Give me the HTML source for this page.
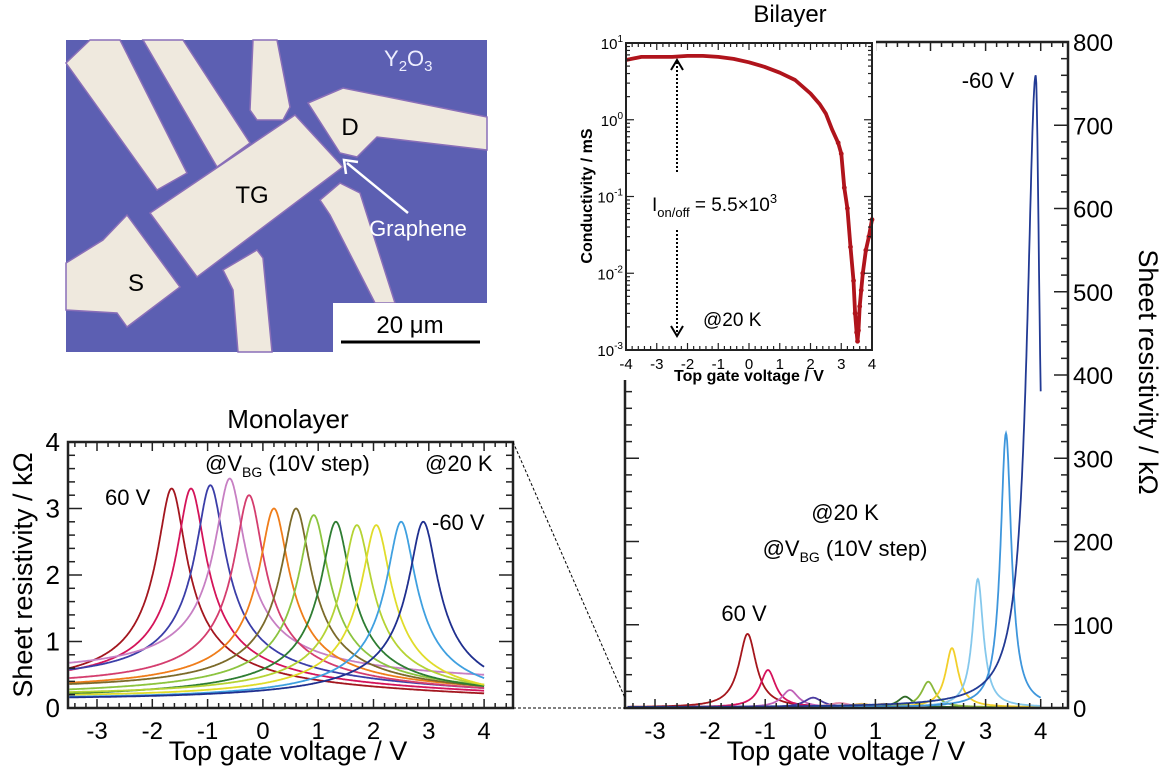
<!DOCTYPE html>
<html><head><meta charset="utf-8"><style>
html,body{margin:0;padding:0;background:#fff;}
svg{display:block;font-family:"Liberation Sans",sans-serif;}
</style></head><body>
<svg id="fig" width="1162" height="771" viewBox="0 0 1162 771" xmlns="http://www.w3.org/2000/svg">
<g id="photo">
  <rect x="66" y="40" width="421" height="312" fill="#5c5fb2"/>
  <g fill="#efe9de" stroke="#8a6fb8" stroke-width="1.5">
    <polygon points="90,40 66,63 157,190 187,173 120,40"/>
    <polygon points="143,40 183,40 250,143 217,167"/>
    <polygon points="150,213 295,115 343,167 197,277"/>
    <polygon points="253,40 277,40 290,107 283,120 257,120 250,110"/>
    <polygon points="308,103 343,88 487,117 487,150 377,137 357,157 340,153"/>
    <polygon points="103,240 127,215 180,287 127,327 117,313 66,310 66,263"/>
    <polygon points="223,270 257,250 263,258 272,352 238,352 233,290"/>
    <polygon points="320,200 340,183 360,193 395,303 375,303 330,215"/>
  </g>
  <rect x="333" y="303" width="154" height="49" fill="#fff"/>
  <line x1="341" y1="342" x2="480" y2="342" stroke="#000" stroke-width="3"/>
  <text x="410" y="333" font-size="24" text-anchor="middle">20 μm</text>
  <text x="384" y="66" font-size="22" fill="#eef">Y<tspan font-size="15" dy="5">2</tspan><tspan dy="-5">O</tspan><tspan font-size="15" dy="5">3</tspan></text>
  <text x="350" y="135" font-size="24" text-anchor="middle">D</text>
  <text x="252" y="203" font-size="24" text-anchor="middle">TG</text>
  <text x="136" y="291" font-size="24" text-anchor="middle">S</text>
  <text x="418" y="236" font-size="22" fill="#fff" text-anchor="middle">Graphene</text>
  <line x1="408" y1="213" x2="347" y2="163" stroke="#fff" stroke-width="2.5"/>
  <polyline points="346,174 344,160 358,162" fill="none" stroke="#fff" stroke-width="2.5"/>
</g>
<g id="mono"></g>
<g id="bi"></g>
<g id="ins"></g>
<line x1="513" y1="442" x2="625" y2="698" stroke="#000" stroke-width="1" stroke-dasharray="3,2"/>
<line x1="513" y1="708" x2="625" y2="708" stroke="#000" stroke-width="1" stroke-dasharray="3,2"/>
</svg>
<script>
// ---- Monolayer data ----
const monoVbg = ["60","50","40","30","20","10","0","-10","-20","-30","-40","-50","-60"];
const monoPeakV = [-1.65,-1.3,-0.95,-0.6,-0.25,0.2,0.6,0.92,1.32,1.7,2.05,2.5,2.9];
const monoPeakR = [3.3,3.3,3.35,3.45,3.2,3.0,3.0,2.9,2.8,2.75,2.75,2.8,2.8];
const monoLeftR = [0.6,0.57,0.58,0.68,0.45,0.38,0.36,0.28,0.22,0.24,0.2,0.17,0.16];
const monoRightR = [0.22,0.26,0.3,0.5,0.3,0.33,0.33,0.35,0.33,0.35,0.35,0.45,0.62];
const monoColors = ["#a3161e","#d4145a","#3b3ea8","#c77fc3","#d43d6e","#ef7d1a","#7b6a2a","#8cc43f","#2e7d32","#b5d334","#e0dc2a","#3fa0e0","#1f2f8f"];
const monoXTicks = [-3,-2,-1,0,1,2,3,4];
const monoYTicks = [0,1,2,3,4];
// ---- Bilayer data ----
const biVbg = ["60","50","40","30","20","10","0","-10","-20","-30","-40","-50","-60"];
const biPeakV = [-1.32,-0.95,-0.55,-0.13,0.35,0.75,1.15,1.54,1.96,2.39,2.86,3.37,3.91];
const biPeakR = [89,45.6,21.6,12.4,6,5,5,13.6,31.6,72,155,330,760];
const biWidthL = [0.19,0.17,0.18,0.2,0.25,0.25,0.25,0.16,0.15,0.14,0.12,0.12,0.19];
const biWidthR = [0.19,0.17,0.18,0.2,0.25,0.25,0.25,0.16,0.15,0.14,0.12,0.12,0.09];
const biColors = ["#a5161c","#d6125c","#c062b8","#4a3aa0","#e38aa8","#d9b060","#c8a070","#2f6a25","#8ab83a","#f2cf2a","#85c8ec","#3e96dc","#223a94"];
const biXTicks = [-3,-2,-1,0,1,2,3,4];
const biYTicks = [0,100,200,300,400,500,600,700,800];
// ---- Inset data ----
const insV = [-4,-3.5,-3,-2.5,-2,-1.5,-1,-0.5,0,0.5,1,1.5,2,2.3,2.5,2.7,2.9,3.0,3.1,3.2,3.3,3.4,3.45,3.5,3.53,3.56,3.6,3.65,3.7,3.8,3.9,4.0];
const insSigma = [6.0,6.6,6.6,6.6,6.8,6.8,6.6,6.2,5.6,4.9,4.1,3.3,2.2,1.6,1.2,0.75,0.5,0.36,0.13,0.07,0.022,0.008,0.003,0.0017,0.0013,0.0018,0.0037,0.006,0.01,0.02,0.03,0.05];
const insXTicks = [-4,-3,-2,-1,0,1,2,3,4];
const insYExp = [1,0,-1,-2,-3];

const NS="http://www.w3.org/2000/svg";
function mk(parent,tag,attrs){const e=document.createElementNS(NS,tag);for(const k in attrs)e.setAttribute(k,attrs[k]);parent.appendChild(e);return e;}

// ===== Monolayer =====
(function(){
const g=document.getElementById('mono');
const L=68,R=513,T=442,B=708;
const xs=v=>97+(v+3)*55.3, ys=v=>B-(v/4)*(B-T);
let t=mk(g,'text',{x:288,y:428,'font-size':26,'text-anchor':'middle'});t.textContent='Monolayer';


const clip=mk(g,'clipPath',{id:'mclip'});mk(clip,'rect',{x:L,y:T,width:R-L,height:B-T});
const cg=mk(g,'g',{'clip-path':'url(#mclip)'});
for(let i=0;i<monoVbg.length;i++){
  const x0=monoPeakV[i],pk=monoPeakR[i],w=0.25;
  const shape=x=>1/Math.sqrt(1+((x-x0)/w)**2);
  const sL=shape(-3.5),sR=shape(4);
  let pts=[];
  for(let x=-3.5;x<=4.0001;x+=0.01){
    const f=(x+3.5)/7.5;
    const bL=(monoLeftR[i]-pk*sL)/(1-sL), bR=(monoRightR[i]-pk*sR)/(1-sR);
    const b=bL+(bR-bL)*f;
    const r=b+(pk-b)*shape(x);
    pts.push(xs(x).toFixed(1)+','+ys(r).toFixed(1));
  }
  const p=mk(cg,'polyline',{points:pts.join(' '),fill:'none',stroke:monoColors[i],'stroke-width':1.8});
  
  
}
const fr=mk(g,'rect',{x:L,y:T,width:R-L,height:B-T,fill:'none',stroke:'#222','stroke-width':2.5});


for(let v=-3.4;v<=4.41;v+=0.2){const X=xs(v);const big=Math.abs(v-Math.round(v))<0.01;const l=big?9:5;
  mk(g,'line',{x1:X,y1:B,x2:X,y2:B-l,stroke:'#222','stroke-width':1.5});mk(g,'line',{x1:X,y1:T,x2:X,y2:T+l,stroke:'#222','stroke-width':1.5});}
for(let v=0;v<=4.01;v+=0.2){const Y=ys(v);const big=Math.abs(v-Math.round(v))<0.01;const l=big?14:7;
  mk(g,'line',{x1:L,y1:Y,x2:L+l,y2:Y,stroke:'#222','stroke-width':1.5});mk(g,'line',{x1:R,y1:Y,x2:R-l,y2:Y,stroke:'#222','stroke-width':1.5});}
monoXTicks.forEach(v=>{const e=mk(g,'text',{x:xs(v),y:B+31,'font-size':24,'text-anchor':'middle'});e.textContent=String(v);
  
  });
monoYTicks.forEach(v=>{const e=mk(g,'text',{x:L-8,y:ys(v)+9,'font-size':26,'text-anchor':'end'});e.textContent=String(v);
  
  });
t=mk(g,'text',{x:288,y:760,'font-size':27,'text-anchor':'middle'});t.textContent='Top gate voltage / V';


t=mk(g,'text',{x:0,y:0,'font-size':27,'text-anchor':'middle',transform:'translate(32,575) rotate(-90)'});t.textContent='Sheet resistivity / kΩ';


t=mk(g,'text',{x:105,y:505,'font-size':22});t.textContent='60 V';


t=mk(g,'text',{x:432,y:530,'font-size':22});t.textContent='-60 V';


t=mk(g,'text',{x:205,y:471,'font-size':22});t.innerHTML='@V<tspan font-size="14" dy="6">BG</tspan><tspan dy="-6"> (10V step)</tspan>';


t=mk(g,'text',{x:425,y:471,'font-size':22});t.textContent='@20 K';


})();

// ===== Bilayer =====
(function(){
const g=document.getElementById('bi');
const L=625,R=1068,T=42,B=708;
const xs=v=>655+(v+3)*55.1, ys=v=>B-v*(B-T)/800;
let t=mk(g,'text',{x:790,y:22,'font-size':24,'text-anchor':'middle'});t.textContent='Bilayer';


const clip=mk(g,'clipPath',{id:'bclip'});mk(clip,'rect',{x:L,y:T-10,width:R-L,height:B-T+10});
const cg=mk(g,'g',{'clip-path':'url(#bclip)'});
for(let i=0;i<biVbg.length;i++){
  const x0=biPeakV[i],pk=biPeakR[i],b=0.8;let pts=[];
  for(let x=-3.5;x<=4.0001;x+=0.01){
    const w=x<x0?biWidthL[i]:biWidthR[i];
    const r=b+(pk-b)/(1+((x-x0)/w)**2);
    pts.push(xs(x).toFixed(1)+','+ys(r).toFixed(1));
  }
  const p=mk(cg,'polyline',{points:pts.join(' '),fill:'none',stroke:biColors[i],'stroke-width':1.8});
  
  
}
const fr=mk(g,'rect',{x:L,y:T,width:R-L,height:B-T,fill:'none',stroke:'#222','stroke-width':2.5});


for(let v=-3.4;v<=4.41;v+=0.2){const X=xs(v);const big=Math.abs(v-Math.round(v))<0.01;const l=big?9:5;
  mk(g,'line',{x1:X,y1:B,x2:X,y2:B-l,stroke:'#222','stroke-width':1.5});mk(g,'line',{x1:X,y1:T,x2:X,y2:T+l,stroke:'#222','stroke-width':1.5});}
for(let v=0;v<=800;v+=20){const Y=ys(v);const l=v%100===0?14:7;
  mk(g,'line',{x1:L,y1:Y,x2:L+l,y2:Y,stroke:'#222','stroke-width':1.5});mk(g,'line',{x1:R,y1:Y,x2:R-l,y2:Y,stroke:'#222','stroke-width':1.5});}
biXTicks.forEach(v=>{const e=mk(g,'text',{x:xs(v),y:B+31,'font-size':24,'text-anchor':'middle'});e.textContent=String(v);
  
  });
biYTicks.forEach(v=>{const e=mk(g,'text',{x:1073,y:ys(v)+9,'font-size':24});e.textContent=String(v);
  
  });
t=mk(g,'text',{x:846,y:760,'font-size':27,'text-anchor':'middle'});t.textContent='Top gate voltage / V';


t=mk(g,'text',{x:0,y:0,'font-size':27,'text-anchor':'middle',transform:'translate(1139,372) rotate(90)'});t.textContent='Sheet resistivity / kΩ';


t=mk(g,'text',{x:744,y:621,'font-size':22,'text-anchor':'middle'});t.textContent='60 V';


t=mk(g,'text',{x:988,y:88,'font-size':22,'text-anchor':'middle'});t.textContent='-60 V';


t=mk(g,'text',{x:845,y:520,'font-size':22,'text-anchor':'middle'});t.textContent='@20 K';


t=mk(g,'text',{x:845,y:556,'font-size':22,'text-anchor':'middle'});t.innerHTML='@V<tspan font-size="14" dy="6">BG</tspan><tspan dy="-6"> (10V step)</tspan>';


})();

// ===== Inset =====
(function(){
const g=document.getElementById('ins');
const L=626,R=872,T=43,B=350;
const xs=v=>L+(v+4)*(R-L)/8, ys=v=>T+(1-Math.log10(v))*(B-T)/4;
const bg=mk(g,'rect',{x:555,y:28,width:R-555+4,height:352,fill:'#fff'});


const pts=insV.map((v,i)=>xs(v).toFixed(1)+','+ys(insSigma[i]).toFixed(1)).join(' ');
const ln=mk(g,'polyline',{points:pts,fill:'none',stroke:'#b0141c','stroke-width':3.8,'stroke-linejoin':'round'});


insV.forEach((v,i)=>{if(v>=2.9){const c=mk(g,'circle',{cx:xs(v),cy:ys(insSigma[i]),r:2.4,fill:'#b0141c'});
  
  }});
const fr=mk(g,'rect',{x:L,y:T,width:R-L,height:B-T,fill:'none',stroke:'#222','stroke-width':2});


for(let v=-4;v<=4.01;v+=0.2){const X=xs(v);const big=Math.abs(v-Math.round(v))<0.01;const l=big?7:4;
  mk(g,'line',{x1:X,y1:B,x2:X,y2:B-l,stroke:'#222','stroke-width':1.2});mk(g,'line',{x1:X,y1:T,x2:X,y2:T+l,stroke:'#222','stroke-width':1.2});}
for(let d=-3;d<1;d++){for(let m=1;m<10;m++){const Y=ys(m*10**d);const l=m===1?8:4;
  mk(g,'line',{x1:L,y1:Y,x2:L+l,y2:Y,stroke:'#222','stroke-width':1.2});mk(g,'line',{x1:R,y1:Y,x2:R-l,y2:Y,stroke:'#222','stroke-width':1.2});}}
insXTicks.forEach(v=>{const e=mk(g,'text',{x:xs(v),y:B+19,'font-size':15,'text-anchor':'middle'});e.textContent=String(v);
  
  });
insYExp.forEach(p=>{const e=mk(g,'text',{x:L-3,y:ys(10**p)+6,'font-size':15,'text-anchor':'end'});e.innerHTML='10<tspan font-size="10" dy="-7">'+p+'</tspan>';
  
  });
let t=mk(g,'text',{x:749,y:381,'font-size':16,'font-weight':'bold','text-anchor':'middle'});t.textContent='Top gate voltage / V';


t=mk(g,'text',{x:0,y:0,'font-size':16,'font-weight':'bold','text-anchor':'middle',transform:'translate(592,196) rotate(-90)'});t.textContent='Conductivity / mS';


t=mk(g,'text',{x:652,y:211,'font-size':19});t.innerHTML='I<tspan font-size="13" dy="6">on/off</tspan><tspan dy="-6"> = 5.5×10</tspan><tspan font-size="13" dy="-8">3</tspan>';


t=mk(g,'text',{x:703,y:326,'font-size':19});t.textContent='@20 K';


const a1=mk(g,'line',{x1:677,y1:62,x2:677,y2:173,stroke:'#000','stroke-width':2,'stroke-dasharray':'2,2'});


mk(g,'polyline',{points:'671,70 677,60 683,70',fill:'none',stroke:'#000','stroke-width':2});
const a2=mk(g,'line',{x1:677,y1:230,x2:677,y2:334,stroke:'#000','stroke-width':2,'stroke-dasharray':'2,2'});


mk(g,'polyline',{points:'671,326 677,336 683,326',fill:'none',stroke:'#000','stroke-width':2});
})();
</script>
</body></html>
